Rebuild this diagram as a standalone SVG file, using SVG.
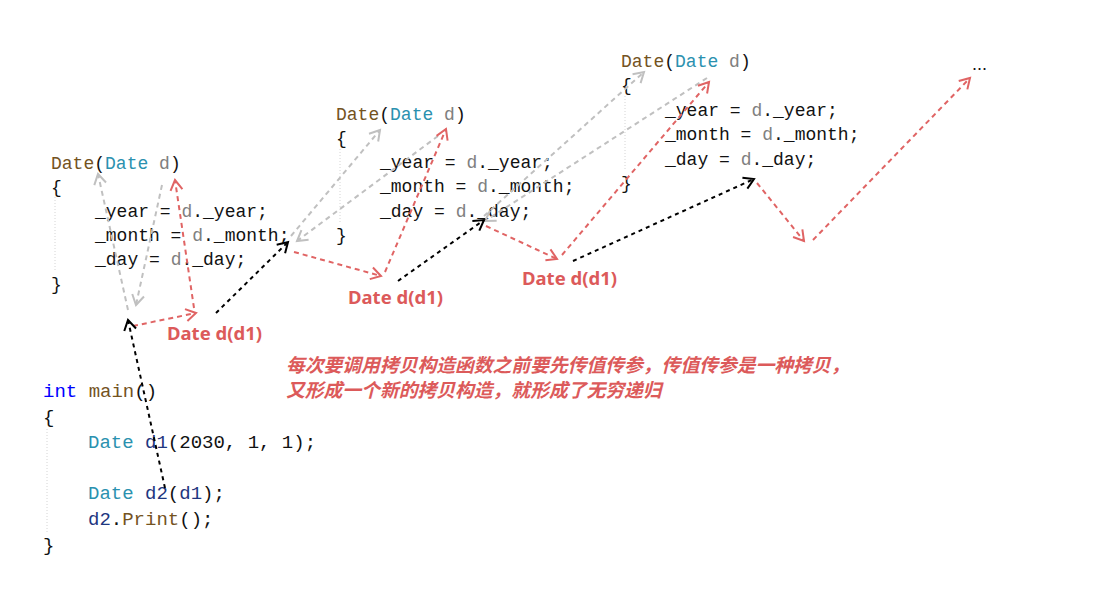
<svg xmlns="http://www.w3.org/2000/svg" width="1113" height="591" viewBox="0 0 1113 591">
<style>
.code{font-family:"Liberation Mono","DejaVu Sans Mono",monospace;font-size:18px;fill:#111}
.main{font-size:19px}
.fn{fill:#74531f}
.ty{fill:#2b91af}
.pm{fill:#808080}
.kw{fill:#0000ff}
.vr{fill:#1f377f}
.guide{stroke:#d4d4d4;stroke-width:1;stroke-dasharray:1,2;fill:none}
.lbl{font-family:"Noto Sans","Liberation Sans",sans-serif;font-size:18px;font-weight:bold;fill:#dc5a5a}
.note{font-family:"Noto Sans CJK SC",sans-serif;font-size:18.8px;font-weight:bold;font-style:italic;fill:#dc5a5a}
.dots{font-family:"Liberation Sans",sans-serif;font-size:18px;fill:#111}
.blk{stroke:#000;stroke-width:2;stroke-dasharray:4,4;fill:none;marker-end:url(#mb)}
.gry{stroke:#c0c0c0;stroke-width:2;stroke-dasharray:5,4;fill:none;marker-end:url(#mg)}
.red{stroke:#e06464;stroke-width:2;stroke-dasharray:5,4;fill:none;marker-end:url(#mr)}
</style>
<defs>
<marker id="mb" markerUnits="userSpaceOnUse" markerWidth="14" markerHeight="14" refX="10" refY="6" orient="auto" overflow="visible"><path d="M0,0 L10,6 L0,12" fill="none" stroke="#000" stroke-width="2"/></marker>
<marker id="mg" markerUnits="userSpaceOnUse" markerWidth="14" markerHeight="14" refX="10" refY="6" orient="auto" overflow="visible"><path d="M0,0 L10,6 L0,12" fill="none" stroke="#c0c0c0" stroke-width="2"/></marker>
<marker id="mr" markerUnits="userSpaceOnUse" markerWidth="14" markerHeight="14" refX="10" refY="6" orient="auto" overflow="visible"><path d="M0,0 L10,6 L0,12" fill="none" stroke="#e06464" stroke-width="2"/></marker>
</defs>
<rect width="1113" height="591" fill="#fff"/>

<g id="ctor1" class="code" xml:space="preserve">
<line class="guide" x1="55" y1="197" x2="55" y2="271"/>
<text x="51" y="168.5"><tspan class="fn">Date</tspan>(<tspan class="ty">Date</tspan> <tspan class="pm">d</tspan>)</text>
<text x="51" y="192.7">{</text>
<text x="95" y="217">_year = <tspan class="pm">d</tspan>._year;</text>
<text x="95" y="241">_month = <tspan class="pm">d</tspan>._month;</text>
<text x="95" y="265.3">_day = <tspan class="pm">d</tspan>._day;</text>
<text x="51" y="289.5">}</text>
</g>

<g id="ctor2" class="code" xml:space="preserve">
<line class="guide" x1="340" y1="149" x2="340" y2="223"/>
<text x="336" y="120"><tspan class="fn">Date</tspan>(<tspan class="ty">Date</tspan> <tspan class="pm">d</tspan>)</text>
<text x="336" y="144">{</text>
<text x="380" y="168">_year = <tspan class="pm">d</tspan>._year;</text>
<text x="380" y="192">_month = <tspan class="pm">d</tspan>._month;</text>
<text x="380" y="216.5">_day = <tspan class="pm">d</tspan>._day;</text>
<text x="336" y="241">}</text>
</g>

<g id="ctor3" class="code" xml:space="preserve">
<line class="guide" x1="625" y1="96" x2="625" y2="170"/>
<text x="621" y="67"><tspan class="fn">Date</tspan>(<tspan class="ty">Date</tspan> <tspan class="pm">d</tspan>)</text>
<text x="621" y="91">{</text>
<text x="665" y="116">_year = <tspan class="pm">d</tspan>._year;</text>
<text x="665" y="140">_month = <tspan class="pm">d</tspan>._month;</text>
<text x="665" y="164.5">_day = <tspan class="pm">d</tspan>._day;</text>
<text x="621" y="188.5">}</text>
</g>

<g id="ellipsis">
<text class="dots" x="972" y="70">...</text>
</g>

<g id="main" class="code main" xml:space="preserve">
<line class="guide" x1="47" y1="429" x2="47" y2="534"/>
<text x="43" y="397"><tspan class="kw">int</tspan> <tspan class="fn">main</tspan>()</text>
<text x="43" y="422.6">{</text>
<text x="88" y="448.2"><tspan class="ty">Date</tspan> <tspan class="vr">d1</tspan>(2030, 1, 1);</text>
<text x="88" y="499.4"><tspan class="ty">Date</tspan> <tspan class="vr">d2</tspan>(<tspan class="vr">d1</tspan>);</text>
<text x="88" y="525"><tspan class="vr">d2</tspan>.<tspan class="fn">Print</tspan>();</text>
<text x="43" y="550.6">}</text>
</g>

<g id="labels">
<text class="lbl" x="167" y="340" textLength="95" lengthAdjust="spacingAndGlyphs">Date d(d1)</text>
<text class="lbl" x="348" y="304" textLength="95" lengthAdjust="spacingAndGlyphs">Date d(d1)</text>
<text class="lbl" x="522" y="285" textLength="95" lengthAdjust="spacingAndGlyphs">Date d(d1)</text>
</g>

<g id="note">
<text class="note" x="286" y="372">每次要调用拷贝构造函数之前要先传值传参，传值传参是一种拷贝，</text>
<text class="note" x="286" y="397">又形成一个新的拷贝构造，就形成了无穷递归</text>
</g>

<g id="connectors">
<path class="gry" d="M128,310 L98,174"/>
<path class="gry" d="M162,185 L136,305"/>
<path class="gry" d="M291,236 L380,130"/>
<path class="gry" d="M438,136 L297,241"/>
<path class="gry" d="M484,216 L644,72"/>
<path class="gry" d="M707,78 L485,221"/>
<path class="red" d="M133,326 L196,313"/>
<path class="red" d="M194,308 L175,180"/>
<path class="red" d="M294,252 L381,276"/>
<path class="red" d="M385,272 L446,129"/>
<path class="red" d="M486,226 L557,259"/>
<path class="red" d="M562,255 L709,82"/>
<path class="red" d="M757,183 L804,241"/>
<path class="red" d="M813,240 L970,78"/>
<path class="blk" d="M165,488 L128,320"/>
<path class="blk" d="M216,313 L288,242"/>
<path class="blk" d="M398,281 L484,220"/>
<path class="blk" d="M573,261 L754,179"/>
</g>
</svg>
